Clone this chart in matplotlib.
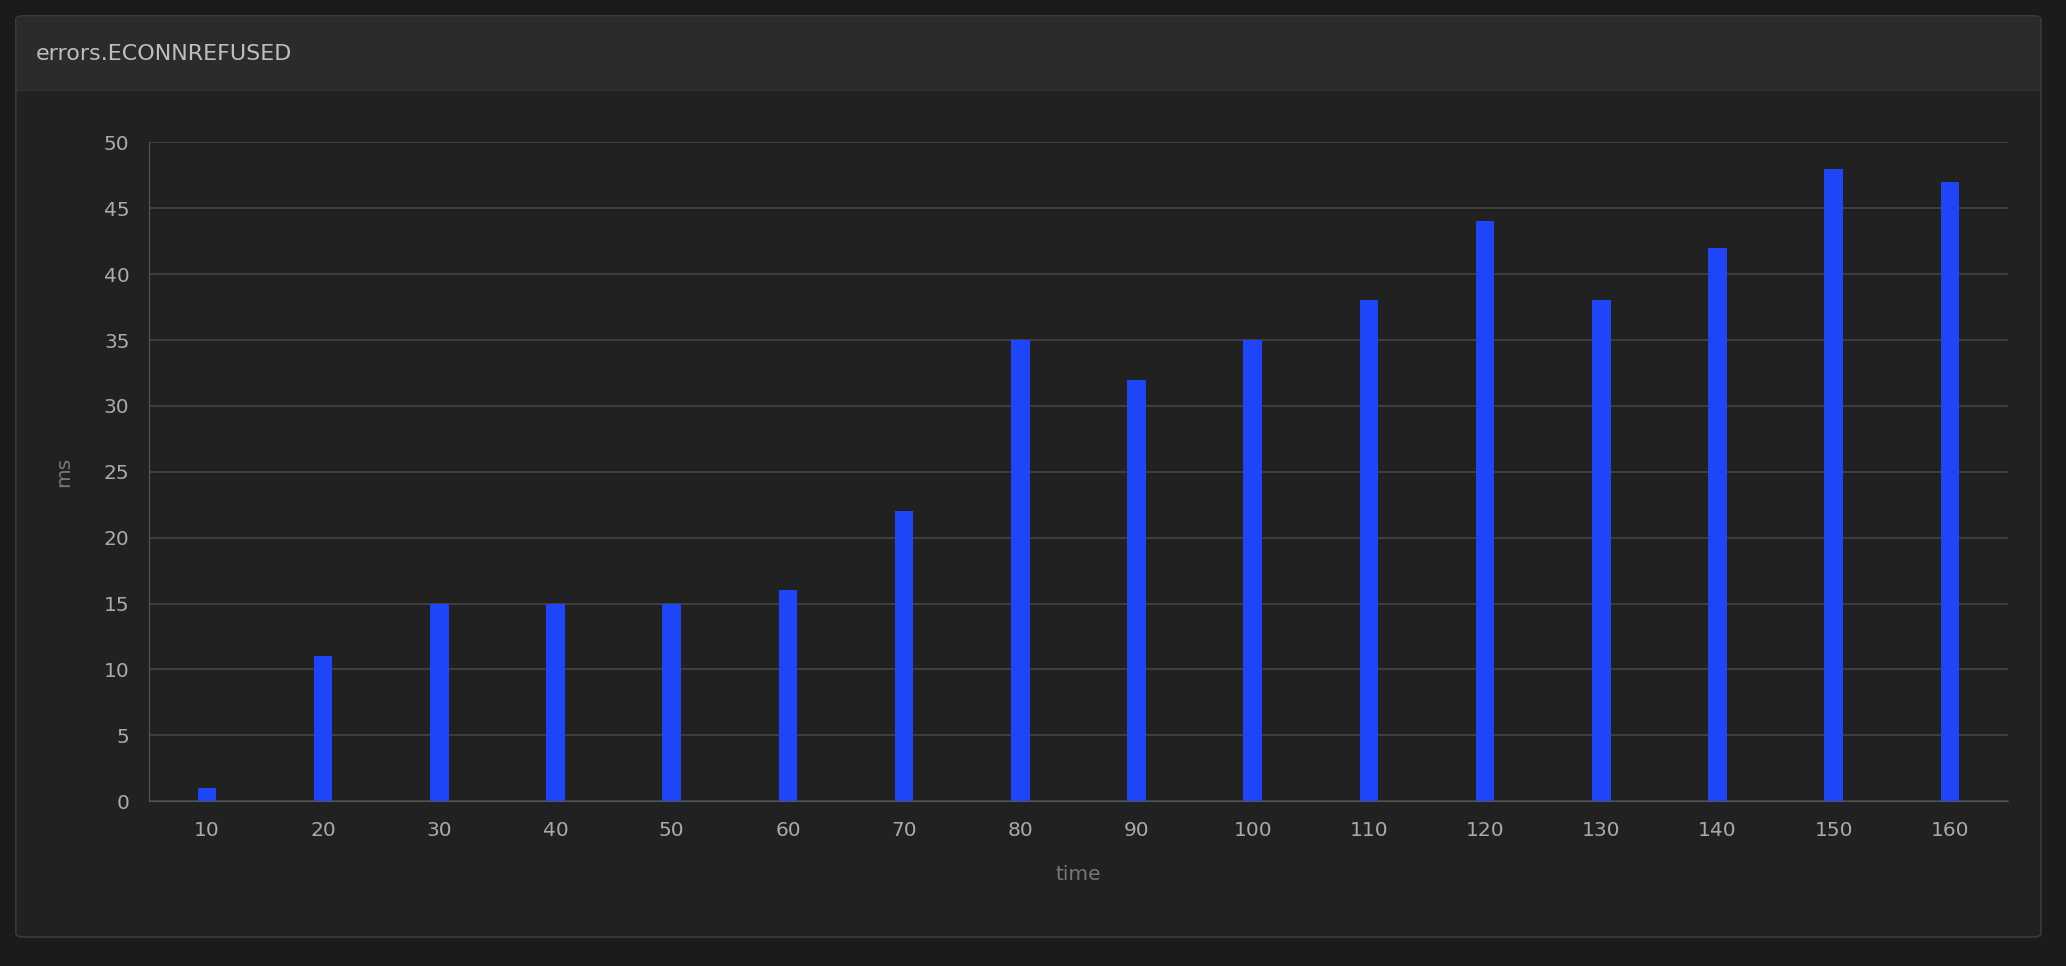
import matplotlib
matplotlib.use("Agg")
import matplotlib.pyplot as plt
from matplotlib.patches import FancyBboxPatch, Rectangle

categories = ["10","20","30","40","50","60","70","80","90","100","110","120","130","140","150","160"]
values = [1, 11, 15, 15, 15, 16, 22, 35, 32, 35, 38, 44, 38, 42, 48, 47]
yticks = [0, 5, 10, 15, 20, 25, 30, 35, 40, 45, 50]

W, H = 1568, 733
fig = plt.figure(figsize=(20.66, 9.66), dpi=100)
fig.patch.set_facecolor("#1b1b1b")

def fx(x): return x / W
def fy(y): return 1 - y / H

panel = FancyBboxPatch((fx(12), fy(711)), fx(1549) - fx(12), fy(12) - fy(711),
                       boxstyle="round,pad=0,rounding_size=0.004", transform=fig.transFigure,
                       facecolor="#212121", edgecolor="#3a3a3a", linewidth=1.2, zorder=-2)
fig.patches.append(panel)
header = Rectangle((fx(13), fy(68)), fx(1548) - fx(13), fy(13) - fy(68), transform=fig.transFigure,
                   facecolor="#2b2b2b", edgecolor="none", zorder=-1)
fig.patches.append(header)
fig.add_artist(plt.Line2D([fx(13), fx(1548)], [fy(68), fy(68)], transform=fig.transFigure,
                          color="#3a3a3a", linewidth=1.2, zorder=-1))
fig.text(fx(27), fy(41), "errors.ECONNREFUSED", color="#bdbdbd", fontsize=16, va="center", ha="left")

ax = fig.add_axes([fx(113), fy(608), fx(1524) - fx(113), fy(108) - fy(608)])
ax.set_zorder(5)
ax.set_facecolor("#212121")
x = list(range(len(categories)))
ax.bar(x, values, width=0.16, color="#1e45f7", zorder=3)
ax.set_xlim(-0.5, len(categories) - 0.5)
ax.set_ylim(0, 50)
ax.set_yticks(yticks)
ax.set_xticks(x)
ax.set_xticklabels(categories)
ax.grid(axis="y", color="#444444", linewidth=1.2, zorder=0)
ax.set_axisbelow(True)
for s in ["top", "right"]:
    ax.spines[s].set_visible(False)
ax.spines["left"].set_color("#555555")
ax.spines["bottom"].set_color("#555555")
ax.tick_params(colors="#aaaaaa", labelsize=14.5, length=0, pad=14)
ax.tick_params(axis="y", length=0, pad=14)
ax.set_xlabel("time", color="#777777", fontsize=14.5, labelpad=18)
ax.set_ylabel("ms", color="#777777", fontsize=14.5, labelpad=22)
fig.savefig("out.png", dpi=100, facecolor=fig.get_facecolor())
